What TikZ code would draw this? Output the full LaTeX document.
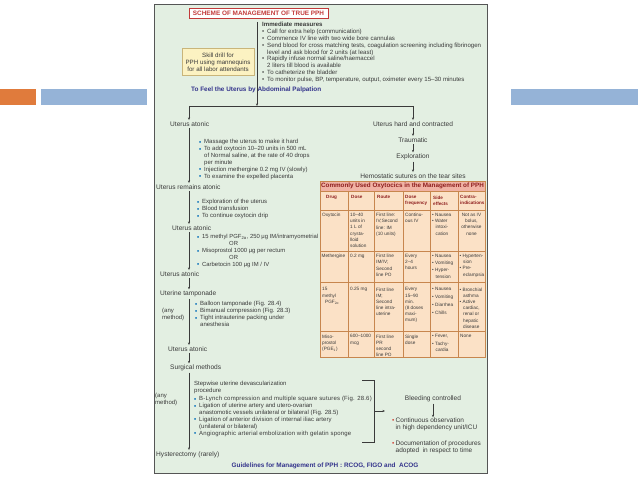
\documentclass[tikz,border=0pt]{standalone}
\usepackage{fontspec}
\setmainfont{Liberation Sans}
\usetikzlibrary{arrows.meta}
\definecolor{pagebg}{HTML}{E3EFE2}
\definecolor{txt}{HTML}{3A3A3A}
\definecolor{navy}{HTML}{34348C}
\definecolor{titlered}{HTML}{C23A3A}
\definecolor{bul}{HTML}{2E86C1}
\definecolor{orangebar}{HTML}{E07B3C}
\definecolor{bluebar}{HTML}{95B3D7}
\definecolor{skillfill}{HTML}{FCF2C2}
\definecolor{skilldraw}{HTML}{C9B57A}
\definecolor{tabfill}{HTML}{FBE1C6}
\definecolor{tabline}{HTML}{C7864E}
\definecolor{tabhead}{HTML}{F0B2A4}
\definecolor{tabred}{HTML}{8E1E1E}
\definecolor{bulred}{HTML}{D0453A}
\definecolor{framec}{HTML}{555555}
\newcommand{\fsA}{\fontsize{6.1}{6.9}\selectfont}
\newcommand{\fsB}{\fontsize{6.0}{6.9}\selectfont}
\newcommand{\fsL}{\fontsize{6.6}{7}\selectfont}
\newcommand{\fsT}{\fontsize{4.7}{6.2}\selectfont}
\newcommand{\mybsq}{\makebox[5pt][l]{\textcolor{bul}{\raisebox{0.5pt}{\fontsize{3.6}{3}\selectfont ■}}}}
\newcommand{\mybdot}{\makebox[5pt][l]{•}}
\newcommand{\mybred}{\makebox[3.5pt][l]{\textcolor{bulred}{•}}}
\newcommand{\myind}{\hspace*{5pt}}
\newcommand{\mytind}{\hspace*{3.5pt}}
\begin{document}
\begin{tikzpicture}[x=1pt,y=-1pt,
  every node/.style={inner sep=0pt,text=txt},
  lbl/.style={font=\fsL,anchor=west,inner ysep=1.3pt},
  lblc/.style={font=\fsL,inner ysep=1.3pt},
  list/.style={font=\fsB,align=left,anchor=north west},
  arr/.style={-{Stealth[length=2.6pt,width=2.1pt]},line width=0.45pt,draw=txt},
  ln/.style={line width=0.45pt,draw=txt},
  cell/.style={font=\fsT,align=left,anchor=north west},
  hcell/.style={font=\fontsize{4.6}{6}\selectfont\bfseries,align=left,anchor=north west,text=tabred}]
\useasboundingbox (0,0) rectangle (638,478);
\fill[white] (0,0) rectangle (638,478);
% slide bars
\fill[orangebar] (0,89) rectangle (36,105);
\fill[bluebar] (41,89) rectangle (147,105);
\fill[bluebar] (511,89) rectangle (638,105);
% page
\filldraw[fill=pagebg,draw=framec,line width=0.8pt] (154,4) rectangle (487,473);
% title
\node[draw=titlered,fill=white,text=titlered,font=\fontsize{6.4}{7}\selectfont\bfseries,minimum width=139pt,minimum height=10pt] (title) at (258.5,13.5) {SCHEME OF MANAGEMENT OF TRUE PPH};
% immediate measures
\node[list,font=\fsA] (imm) at (262,21.8) {\textbf{Immediate measures}\\
\mybdot Call for extra help (communication)\\
\mybdot Commence IV line with two wide bore cannulas\\
\mybdot Send blood for cross matching tests, coagulation screening including fibrinogen\\
\myind level and ask blood for 2 units (at least)\\
\mybdot Rapidly infuse normal saline/haemaccel\\
\myind 2 liters till blood is available\\
\mybdot To catheterize the bladder\\
\mybdot To monitor pulse, BP, temperature, output, oximeter every 15--30 minutes};
\node[draw=skilldraw,fill=skillfill,align=center,font=\fontsize{6.2}{7}\selectfont,minimum width=72pt,minimum height=27pt] (skill) at (218,62) {Skill drill for\\PPH using mannequins\\for all labor attendants};
\node[lbl,font=\fontsize{6.4}{7}\selectfont\bfseries,text=navy] (feel) at (191,89.5) {To Feel the Uterus by Abdominal Palpation};
% junctions
\coordinate (ims) at (257,22);
\coordinate (jm) at (257,106);
\coordinate (jl) at (189,106);
\coordinate (jr) at (413,106);
\coordinate (vl) at (189,0);
\draw[arr] (ims) -- (jm);
\draw[ln] (jl) -- (jr);
% left flow
\node[lbl] (ua1) at (170,124) {Uterus atonic};
\node[list] (l1) at (199,139.3) {\mybsq Massage the uterus to make it hard\\
\mybsq To add oxytocin 10--20 units in 500 mL\\
\myind of Normal saline, at the rate of 40 drops\\
\myind per minute\\
\mybsq Injection methergine 0.2 mg IV (slowly)\\
\mybsq To examine the expelled placenta};
\node[lbl] (ura) at (156,187) {Uterus remains atonic};
\node[list] (l2) at (197,199.3) {\mybsq Exploration of the uterus\\
\mybsq Blood transfusion\\
\mybsq To continue oxytocin drip};
\node[lbl] (ua2) at (172,228) {Uterus atonic};
\node[list,font=\fontsize{5.9}{6.9}\selectfont] (l3) at (197,234.3) {\mybsq 15 methyl PGF\textsubscript{2α}, 250 μg IM/intramyometrial\\
\hspace*{32pt}OR\\
\mybsq Misoprostol 1000 μg per rectum\\
\hspace*{32pt}OR\\
\mybsq Carbetocin 100 μg IM / IV};
\node[lbl] (ua3) at (160,274) {Uterus atonic};
\node[lbl] (ut) at (160,294) {Uterine tamponade};
\node[list] (l4) at (195,301.3) {\mybsq Balloon tamponade (Fig. 28.4)\\
\mybsq Bimanual compression (Fig. 28.3)\\
\mybsq Tight intrauterine packing under\\
\myind anesthesia};
\node[list] (any1) at (162,308.3) {(any\\method)};
\node[lbl] (ua4) at (168,349) {Uterus atonic};
\node[lbl] (sm) at (170,368) {Surgical methods};
\node[list] (l5) at (194,381.3) {Stepwise uterine devascularization\\procedure\\[1pt]
\mybsq {\addfontfeature{LetterSpace=3.3}B-Lynch compression and multiple square sutures (Fig. 28.6)}\\
\mybsq Ligation of uterine artery and utero-ovarian\\
\myind anastomotic vessels unilateral or bilateral (Fig. 28.5)\\
\mybsq {\addfontfeature{LetterSpace=1.5}Ligation of anterior division of internal iliac artery}\\
\myind (unilateral or bilateral)\\
\mybsq {\addfontfeature{LetterSpace=3}Angiographic arterial embolization with gelatin sponge}};
\node[list] (any2) at (155,393.3) {(any\\method)};
\node[lbl] (hy) at (156,454.5) {Hysterectomy (rarely)};
\draw[arr] (jl) -- (ua1.north -| vl);
\draw[arr] (ua1.south -| vl) -- (ura.north -| vl);
\draw[arr] (ura.south -| vl) -- (ua2.north -| vl);
\draw[arr] (ua2.south -| vl) -- (ua3.north -| vl);
\draw[arr] (ua3.south -| vl) -- (ut.north -| vl);
\draw[arr] (ut.south -| vl) -- (ua4.north -| vl);
\draw[arr] (ua4.south -| vl) -- (sm.north -| vl);
\draw[arr] (sm.south -| vl) -- (hy.north -| vl);
% right flow
\node[lblc] (hard) at (413,124) {Uterus hard and contracted};
\node[lblc] (trau) at (413,140) {Traumatic};
\node[lblc] (expl) at (413,157) {Exploration};
\node[lblc] (hemo) at (413,176) {Hemostatic sutures on the tear sites};
\draw[arr] (jr) -- (hard.north);
\draw[arr] (hard) -- (trau);
\draw[arr] (trau) -- (expl);
\draw[arr] (expl) -- (hemo);
% table
\filldraw[fill=tabfill,draw=tabline,line width=0.5pt] (320,191) rectangle (485,357);
\filldraw[fill=tabhead,draw=tabline,line width=0.5pt] (320,181) rectangle (485,191);
\foreach \yy in {210,251,282,331} \draw[tabline,line width=0.4pt] (320,\yy) -- (485,\yy);
\foreach \xx in {348,374,403,430,458} \draw[tabline,line width=0.4pt] (\xx,191) -- (\xx,357);
\node[font=\fontsize{6.3}{7}\selectfont\bfseries,text=tabred] (tabt) at (402.5,186.2) {Commonly Used Oxytocics in the Management of PPH};
\node[hcell] (h1) at (326,195.5) {Drug};
\node[hcell] (h2) at (351,195.5) {Dose};
\node[hcell] (h3) at (377,195.5) {Route};
\node[hcell] (h4) at (405,195.5) {Dose\\frequency};
\node[hcell] (h5) at (433,195.5) {Side\\effects};
\node[hcell] (h6) at (460,195.5) {Contra-\\indications};
% oxytocin
\node[cell] (a1) at (322,213) {Oxytocin};
\node[cell] (a2) at (350,213) {10--40\\units in\\1 L of\\crysta-\\lloid\\solution};
\node[cell] (a3) at (376,213) {First line:\\IV;Second\\line: IM\\(10 units)};
\node[cell] (a4) at (405,213) {Continu-\\ous IV};
\node[cell] (a5) at (432,213) {• Nausea\\• Water\\\mytind intoxi-\\\mytind cation};
\node[cell,align=center,anchor=north] (a6) at (471.5,213) {Not as IV\\bolus,\\otherwise\\none};
% methergine
\node[cell] (b1) at (321.5,254) {Methergine};
\node[cell] (b2) at (350,254) {0.2 mg};
\node[cell] (b3) at (376,254) {First line\\IM/IV;\\Second\\line PO};
\node[cell] (b4) at (405,254) {Every\\2--4\\hours};
\node[cell] (b5) at (432,254) {• Nausea\\[1pt]• Vomiting\\[1pt]• Hyper-\\\mytind tension};
\node[cell] (b6) at (459.5,254) {• Hyperten-\\\mytind sion\\• Pre-\\\mytind eclampsia};
% 15 methyl
\node[cell] (c1) at (322,287.5) {15\\methyl\\\hspace*{3pt}PGF\textsubscript{2α}};
\node[cell] (c2) at (350,287.5) {0.25 mg};
\node[cell] (c3) at (376,287.5) {First line\\IM;\\Second\\line intra-\\uterine};
\node[cell] (c4) at (405,287.5) {Every\\15--90\\min.\\(8 doses\\maxi-\\mum)};
\node[cell] (c5) at (432,287.5) {• Nausea\\[1.5pt]• Vomiting\\[1.5pt]• Diarrhea\\[1.5pt]• Chills};
\node[cell] (c6) at (459.5,287.5) {• Bronchial\\\mytind asthma\\• Active\\\mytind cardiac,\\\mytind renal or\\\mytind hepatic\\\mytind disease};
% misoprostol
\node[cell] (d1) at (322,334.5) {Miso-\\prostol\\(PGE\textsubscript{1})};
\node[cell] (d2) at (350,334.5) {600--1000\\mcg};
\node[cell] (d3) at (376,334.5) {First line\\PR\\second\\line PO};
\node[cell] (d4) at (405,334.5) {Single\\dose};
\node[cell] (d5) at (432,334.5) {• Fever,\\[1pt]• Tachy-\\\mytind cardia};
\node[cell] (d6) at (460,334.5) {None};
% bracket and outcome
\coordinate (b1c) at (362,380);
\coordinate (b2c) at (374,380);
\coordinate (b3c) at (374,442);
\coordinate (b4c) at (362,442);
\coordinate (bmc) at (374,411);
\coordinate (bec) at (385,411);
\draw[ln,line width=0.6pt] (b1c) -- (b2c) -- (b3c) -- (b4c);
\draw[arr] (bmc) -- (bec);
\node[lblc] (bc) at (433,399) {Bleeding controlled};
\node[list,font=\fontsize{6.5}{7}\selectfont] (co) at (392,417.3) {\mybred Continuous observation\\\hspace*{3.5pt}in high dependency unit/ICU};
\node[list,font=\fontsize{6.5}{7}\selectfont] (doc) at (392,440.3) {\mybred Documentation of procedures\\\hspace*{3.5pt}adopted~ in respect to time};
\draw[arr] (bc.south) -- (co.north -| bc);
\node[font=\fontsize{6.4}{7}\selectfont\bfseries,text=navy] (guide) at (325,465.5) {Guidelines for Management of PPH : RCOG, FIGO and~ ACOG};
\end{tikzpicture}
\end{document}
